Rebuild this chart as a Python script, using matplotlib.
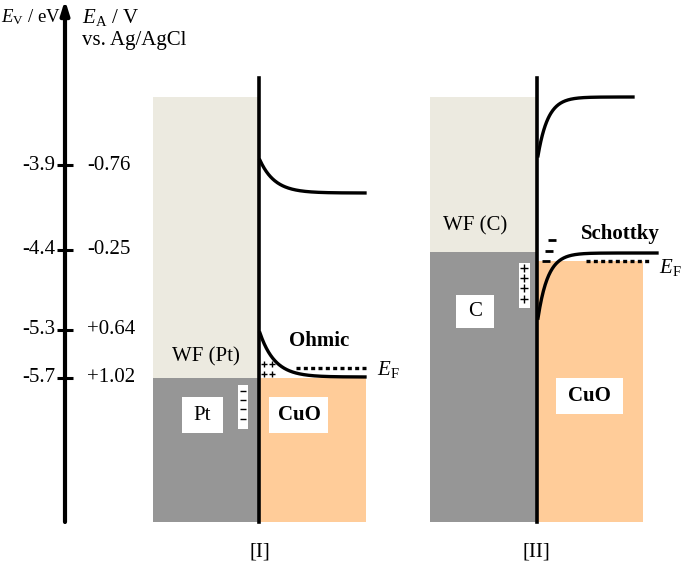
import numpy as np
import matplotlib.pyplot as plt
from matplotlib.patches import Rectangle

plt.rcParams['font.family'] = ['Liberation Serif', 'DejaVu Serif']
plt.rcParams['mathtext.fontset'] = 'custom'
plt.rcParams['mathtext.it'] = 'Liberation Serif:italic'
plt.rcParams['mathtext.rm'] = 'Liberation Serif'

# schematic energy axis: label pairs and their positions on the drawing
tick_ev = ['-3.9', '-4.4', '-5.3', '-5.7']
tick_v = ['-0.76', '-0.25', '+0.64', '+1.02']
tick_y = [165, 250, 330, 378]

# panel layout (schematic units, y grows downward)
panel_names = ['[I]', '[II]']
panel_left = [153, 430]
interface_x = [259, 537]
panel_right = [366, 643]
metal_names = ['Pt', 'C']
wf_level = [378, 252]          # metal work function / Fermi level
cuo_top = [378, 261]           # top of CuO block
fermi_level = [368, 261]       # dotted E_F of CuO
contact_names = ['Ohmic', 'Schottky']
# band bending: (start at interface, flat level, decay length, end x)
cb_band = [(158, 193, 15, 365), (162, 97, 10, 633)]
vb_band = [(330, 377, 15, 365), (325, 253, 10, 657)]

bottom = 522
box_top = 97
fs = 15

beige = '#ECEAE0'
gray = '#969696'
orange = '#FFCC99'

fig = plt.figure(figsize=(6.85, 5.65), dpi=100)
ax = fig.add_axes([0, 0, 1, 1])
ax.set_xlim(0, 685)
ax.set_ylim(565, 0)
ax.axis('off')

# vertical energy axis with arrow
ax.annotate('', xy=(65, 0), xytext=(65, bottom),
            arrowprops=dict(arrowstyle='-|>,head_width=0.25,head_length=0.8',
                            lw=3, color='black', shrinkA=0, shrinkB=0))
for ev, v, y in zip(tick_ev, tick_v, tick_y):
    ax.plot([57, 73], [y, y], color='black', lw=2.2, solid_capstyle='butt')
    ax.text(55, y, ev, ha='right', va='center', fontsize=fs)
    ax.text(87, y, v, ha='left', va='center', fontsize=fs)

ax.text(1, 17, r'$E_{\mathrm{V}}$ / eV', ha='left', va='center', fontsize=13.5)
ax.text(82, 17, r'$E_{\mathrm{A}}$ / V', ha='left', va='center', fontsize=fs)
ax.text(82, 41, 'vs. Ag/AgCl', ha='left', va='center', fontsize=fs)


def white_box(x0, y0, x1, y1):
    ax.add_patch(Rectangle((x0, y0), x1 - x0, y1 - y0, facecolor='white',
                           edgecolor='none', zorder=3))


def charges(xs, ys, sign, size):
    ax.plot(xs, ys, linestyle='none', marker='_' if sign < 0 else '+',
            color='black', markersize=size, markeredgewidth=1.0, zorder=5)


for i in range(2):
    xl, xi, xr = panel_left[i], interface_x[i], panel_right[i]
    ax.add_patch(Rectangle((xl, box_top), xi - xl, wf_level[i] - box_top,
                           facecolor=beige, edgecolor='none'))
    ax.add_patch(Rectangle((xl, wf_level[i]), xi - xl, bottom - wf_level[i],
                           facecolor=gray, edgecolor='none'))
    ax.add_patch(Rectangle((xi, cuo_top[i]), xr - xi, bottom - cuo_top[i],
                           facecolor=orange, edgecolor='none'))
    ax.plot([xi, xi], [78, bottom], color='black', lw=2.6, zorder=4)

    for y0, y1, tau, xe in (cb_band[i], vb_band[i]):
        xs = np.linspace(xi + 1, xe, 200)
        ys = y1 + (y0 - y1) * np.exp(-(xs - xi) / tau)
        ax.plot(xs, ys, color='black', lw=2.4, zorder=4)

    ax.text((xl + xr) / 2, 552, panel_names[i], ha='center', va='center',
            fontsize=fs)

# panel I labels
ax.plot([296, 366], [fermi_level[0]] * 2, color='black', lw=2.4,
        linestyle=(0, (1.2, 1.0)), zorder=4)
ax.text(319, 341, contact_names[0], ha='center', va='center', fontsize=fs,
        fontweight='bold')
ax.text(377, 370, r'$E_{\mathrm{F}}$', ha='left', va='center', fontsize=fs)
ax.text(206, 357, 'WF (Pt)', ha='center', va='center', fontsize=fs)
charges([264, 272, 264, 272], [364, 364, 374, 374], +1, 5)
white_box(182, 397, 223, 433)
ax.text(202, 415, metal_names[0], ha='center', va='center', fontsize=fs,
        zorder=5)
white_box(238, 385, 248, 429)
charges([243] * 4, [391, 400, 409, 419], -1, 5)
white_box(269, 397, 328, 433)
ax.text(299, 415, 'CuO', ha='center', va='center', fontsize=fs,
        fontweight='bold', zorder=5)

# panel II labels
ax.plot([586, 651], [fermi_level[1]] * 2, color='black', lw=2.4,
        linestyle=(0, (1.2, 1.0)), zorder=4)
ax.text(620, 234, contact_names[1], ha='center', va='center', fontsize=fs,
        fontweight='bold')
ax.text(659, 268, r'$E_{\mathrm{F}}$', ha='left', va='center', fontsize=fs)
ax.text(475, 226, 'WF (C)', ha='center', va='center', fontsize=fs)
ax.plot([552, 549, 546], [240, 251, 261], linestyle='none', marker='_',
        color='black', markersize=6, markeredgewidth=2, zorder=5)
white_box(519, 263, 530, 308)
charges([524] * 4, [268, 278, 288, 299], +1, 6)
white_box(456, 295, 494, 328)
ax.text(475, 312, metal_names[1], ha='center', va='center', fontsize=fs,
        zorder=5)
white_box(556, 378, 623, 414)
ax.text(589, 396, 'CuO', ha='center', va='center', fontsize=fs,
        fontweight='bold', zorder=5)

fig.savefig('out.png', dpi=100)
